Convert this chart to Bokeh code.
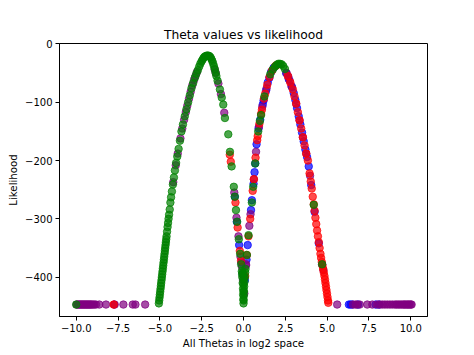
from bokeh.plotting import figure
from bokeh.models import Range1d, FixedTicker
from bokeh.embed import file_html
from bokeh.resources import INLINE

# ---- data ----
green_x = [-5.06, -5.04, -5.02, -5.00, -4.98, -4.96, -4.94, -4.92, -4.90, -4.88, -4.86, -4.84, -4.82, -4.80,
           -4.78, -4.76, -4.74, -4.72, -4.70, -4.68, -4.66, -4.64, -4.62, -4.60, -4.57, -4.54, -4.51, -4.48,
           -4.45, -4.41, -4.37, -4.33, -4.28, -4.22, -4.16, -4.10, -4.03, -3.96, -3.88, -3.80, -3.71, -3.62,
           -3.51, -3.41, -3.31, -3.21, -3.11, -3.01, -2.91, -2.82, -2.73, -2.65, -2.58, -2.51, -2.45, -2.39,
           -2.33, -2.27, -2.21, -2.15, -2.09, -2.03, -1.97, -1.92, -1.87, -1.82, -1.77, -1.72, -1.67, -1.62,
           -1.55, -1.41, -1.30, -1.21, -1.11, -0.91, -0.81, -0.71,
           -0.58, -0.52, -0.45, -0.38, -0.28, -0.20, -0.14, -0.10, -0.07, -0.05, -0.03, -0.02, -0.01, 0.00,
           0.01, 0.02, 0.03, 0.04, 0.06, 0.08, 0.10, 0.12, -0.08, 0.00, 0.00, 0.02, -0.04,
           0.30, 0.50, 0.70, 0.88, 1.05, 1.25, 1.60, 1.75, 1.88, 1.98, 2.08, 2.18, 2.28, 2.38, 2.48, 4.70, 4.20,
           0.20, 0.58, 0.98,
           -10.0]
green_y = [-445, -440, -435, -430, -425, -420, -415, -410, -405, -400, -395, -390, -385, -380,
           -375, -370, -365, -360, -355, -350, -345, -340, -335, -330, -322, -314, -307, -300,
           -293, -284, -272, -263, -253, -241, -229, -217, -204, -193, -180, -166, -150, -138,
           -124, -112, -100, -88, -76, -67, -58, -51, -45, -39, -34, -30, -27, -24,
           -22, -21, -20, -20, -20, -21, -23, -26, -29, -33, -38, -43, -49, -55,
           -63, -78, -92, -104, -127, -155, -185, -210,
           -245, -262, -285, -305, -335, -360, -378, -390, -400, -410, -420, -430, -438, -445,
           -440, -432, -424, -416, -408, -400, -392, -386, -395, -425, -412, -402, -392,
           -328, -272, -205, -150, -122, -90, -52, -44, -39, -36, -34, -34, -35, -38, -43, -378, -276,
           -362, -245, -132,
           -447]

purple_x = [-4.20, -4.05, -3.93, -3.77, -3.66, -3.55, -3.45, -3.36, -3.26, -3.16, -3.06, -2.96, -2.87, -2.78,
            -1.72, -1.66, -1.50, -1.35, -1.15,
            -0.55, -0.42, -0.30, -0.18, -0.10, 0.02, 0.05, -0.03, 0.15,
            0.35, 0.62, 0.92, 2.58, 2.68, 2.76, 2.86, 3.55, 4.78,
            0.15, 0.42, 0.75, 1.12, 1.38, 3.15, 3.35, 3.75, 3.98,
            -9.98, -9.92, -9.86, -9.80, -9.74, -9.68, -9.62, -9.56, -9.50, -9.44, -9.38, -9.32, -9.26,
            -9.20, -9.14, -9.08, -9.00, -8.92, -8.82, -8.62, -8.22, -7.74, -7.70, -7.18, -6.62, -6.46, -5.88,
            5.60, 6.55, 6.70, 6.80, 6.95, 7.40, 7.70, 8.00, 8.15, 8.30, 8.45, 8.60, 8.75, 8.90, 9.05,
            9.15, 9.25, 9.35, 9.45, 9.55, 9.62, 9.70, 9.78, 9.85, 9.92, 10.00, 10.05]
purple_y = [-237, -208, -188, -162, -145, -130, -117, -106, -94, -82, -71, -62, -55, -48,
            -44, -50, -68, -86, -118,
            -255, -298, -330, -365, -382, -398, -428, -405, -378,
            -312, -232, -142, -50, -56, -63, -72, -160, -388,
            -380, -292, -185, -108, -76, -103, -131, -188, -226,
            -447, -447, -447, -447, -447, -447, -447, -447, -447, -447, -447, -447, -447,
            -447, -447, -447, -447, -447, -447, -447, -447, -447, -447, -447, -447, -447, -447,
            -447, -447, -447, -447, -447, -447, -447, -447, -447, -447, -447, -447, -447, -447, -447,
            -447, -447, -447, -447, -447, -447, -447, -447, -447, -447, -447, -447]

red_x = [2.65, 2.80, 2.95, 3.05, 3.15, 3.25, 3.35, 3.45, 3.55, 3.65, 3.75, 3.85, 3.95, 4.02, 4.08,
         4.14, 4.20, 4.25, 4.30, 4.35, 4.40, 4.45, 4.50, 4.55, 4.60, 4.64, 4.68, 4.72, 4.76, 4.80,
         4.84, 4.87, 4.90, 4.93, 4.96, 4.99, 5.02, 5.05, 5.07,
         0.10, 0.20, 0.40, 0.55, 0.72, 0.85, 0.95, 1.10, 1.30, 1.42, 1.70, 1.90, 2.00,
         0.30, 0.62, 0.82, 1.05, 1.22, 1.55,
         -0.48, -0.35, -0.22, -0.15, -0.82, -0.76, -7.76]
red_y = [-55, -66, -78, -90, -102, -117, -131, -145, -160, -174, -188, -200, -222, -236, -248,
         -262, -275, -286, -298, -309, -320, -330, -340, -350, -360, -367, -374, -380, -386, -392,
         -398, -404, -410, -416, -422, -428, -434, -440, -444,
         -398, -362, -300, -252, -195, -158, -137, -113, -85, -70, -46, -38, -36,
         -330, -232, -165, -120, -94, -57,
         -272, -315, -355, -372, -190, -202, -447]

blue_x = [0.08, 0.18, 0.25, 0.45, 0.60, 0.66, 0.78, 1.00, 1.15, 1.35, 1.55, 2.55,
          3.00, 3.20, 3.40, 3.60, 3.80, 4.05, 4.25, 4.50, 4.70,
          0.50, 0.70, 0.90, 1.20, 1.45, 1.65, 1.80,
          2.70, 2.90, 3.10, 3.30, 3.50, 3.70, 3.90,
          -0.52, -0.40, -0.26, -0.13, -0.05,
          6.30, 6.40, 6.50, 6.85, 7.90, 8.10]
blue_y = [-405, -370, -345, -285, -240, -220, -172, -130, -104, -80, -58, -50,
          -84, -110, -138, -167, -194, -242, -288, -342, -378,
          -268, -205, -145, -97, -66, -48, -41,
          -60, -74, -96, -124, -152, -181, -210,
          -262, -305, -345, -375, -395,
          -447, -447, -447, -447, -447, -447]

x_ticks = [-10.0, -7.5, -5.0, -2.5, 0.0, 2.5, 5.0, 7.5, 10.0]
x_tick_labels = ["\u221210.0", "\u22127.5", "\u22125.0", "\u22122.5", "0.0", "2.5", "5.0", "7.5", "10.0"]
y_ticks = [0, -100, -200, -300, -400]
y_tick_labels = ["0", "\u2212100", "\u2212200", "\u2212300", "\u2212400"]

FONT = "DejaVu Sans"

p = figure(width=474, height=355, output_backend="svg", toolbar_location=None,
           x_range=Range1d(-11.0, 11.0), y_range=Range1d(-467.5, 0.8),
           title="Theta values vs likelihood",
           min_border_left=59, min_border_right=47, min_border_top=43, min_border_bottom=39)

p.background_fill_color = "white"
p.border_fill_color = "white"
p.outline_line_color = "black"
p.outline_line_width = 1
p.grid.visible = False

p.title.text_font = FONT
p.title.text_font_size = "12.3px"
p.title.text_font_style = "normal"
p.title.align = "center"
p.title.text_color = "black"
p.title.standoff = 4

for ax in (p.xaxis[0], p.yaxis[0]):
    ax.axis_line_color = "black"
    ax.major_tick_line_color = "black"
    ax.major_tick_out = 4
    ax.major_tick_in = 0
    ax.minor_tick_line_color = None
    ax.major_label_text_font = FONT
    ax.major_label_text_font_size = "10px"
    ax.major_label_text_color = "black"
    ax.axis_label_text_font = FONT
    ax.axis_label_text_font_size = "10.2px"
    ax.axis_label_text_font_style = "normal"
    ax.axis_label_text_color = "black"
    ax.major_label_standoff = 3
    ax.axis_label_standoff = 3

p.xaxis.ticker = FixedTicker(ticks=x_ticks)
p.xaxis.major_label_overrides = dict(zip(x_ticks, x_tick_labels))
p.yaxis.ticker = FixedTicker(ticks=y_ticks)
p.yaxis.major_label_overrides = dict(zip(y_ticks, y_tick_labels))
p.xaxis.axis_label = "All Thetas in log2 space"
p.yaxis.axis_label = "Likelihood"

SIZE = 7.5
ALPHA = 0.7
p.scatter(blue_x, blue_y, size=SIZE, fill_color="blue", line_color="blue", fill_alpha=ALPHA, line_alpha=ALPHA)
p.scatter(purple_x, purple_y, size=SIZE, fill_color="purple", line_color="purple", fill_alpha=ALPHA, line_alpha=ALPHA)
p.scatter(red_x, red_y, size=SIZE, fill_color="red", line_color="red", fill_alpha=ALPHA, line_alpha=ALPHA)
p.scatter(green_x, green_y, size=SIZE, fill_color="green", line_color="green", fill_alpha=ALPHA, line_alpha=ALPHA)

open("out.html", "w").write(file_html(p, INLINE))
